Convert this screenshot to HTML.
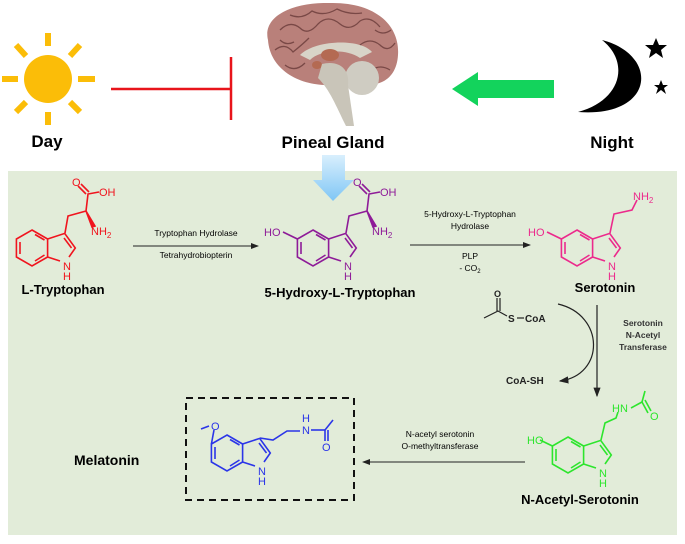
<!DOCTYPE html>
<html><head><meta charset="utf-8"><style>
html,body{margin:0;padding:0;background:#fff}
svg{display:block;font-family:"Liberation Sans",Arial,sans-serif}
.b{font-weight:bold}
</style></head><body>
<svg width="685" height="544" viewBox="0 0 685 544" xmlns="http://www.w3.org/2000/svg">
<defs>
<g id="indole" fill="none" stroke-width="1.6">
<polygon points="0,-18 15.6,-9 15.6,9 0,18 -15.6,9 -15.6,-9"/>
<line x1="3" y1="-13.5" x2="12.5" y2="-8"/>
<line x1="12.5" y1="7" x2="3" y2="13"/>
<line x1="-12" y1="6" x2="-12" y2="-6"/>
<polyline points="15.6,-9 32.7,-14.6 43.3,0 37,9"/>
<line x1="15.6" y1="9" x2="28" y2="13"/>
<line x1="32" y1="-10" x2="39.5" y2="0"/>
</g>
<linearGradient id="bg" x1="0" y1="0" x2="0" y2="1"><stop offset="0" stop-color="#d9effd"/><stop offset="1" stop-color="#7fc6f5"/></linearGradient>
<marker id="ah" markerWidth="8" markerHeight="6" refX="7" refY="3" orient="auto"><path d="M0,0 L8,3 L0,6z" fill="#222"/></marker>
</defs>

<rect x="8" y="171" width="669" height="364" fill="#e2ecd9"/>

<g fill="#fbbd08" stroke="#fbbd08">
<ellipse cx="48" cy="79" rx="24" ry="24" stroke="none"/>
<g stroke-width="6">
<line x1="48" y1="33" x2="48" y2="46"/><line x1="48" y1="112" x2="48" y2="125"/>
<line x1="2" y1="79" x2="18" y2="79"/><line x1="78" y1="79" x2="95" y2="79"/>
<line x1="16" y1="45" x2="26" y2="56"/><line x1="70" y1="102" x2="80" y2="112"/>
<line x1="80" y1="45" x2="70" y2="56"/><line x1="26" y1="102" x2="16" y2="112"/>
</g></g>
<text x="47" y="147" text-anchor="middle" class="b" font-size="17">Day</text>

<line x1="111" y1="89" x2="231" y2="89" stroke="#e8141b" stroke-width="2.5"/>
<line x1="231" y1="57" x2="231" y2="120" stroke="#e8141b" stroke-width="2.5"/>

<path d="M268,40 C262,15 295,2 330,3 C375,2 400,25 398,55 C397,72 388,82 375,84 L330,85 C300,86 270,70 268,40z" fill="#b9807a"/>
<g stroke="#6e3f3d" stroke-width="1.3" fill="none" opacity="0.85">
<path d="M280,30 q10,-10 20,-2 q8,8 18,-4 q10,-10 22,0 q10,8 20,-3 q10,-6 20,6"/>
<path d="M275,50 q10,-8 18,2 q10,-8 16,-14"/>
<path d="M360,45 q10,-8 20,0 q8,8 15,-2"/>
<path d="M285,65 q10,8 20,-2"/>
<path d="M290,15 q12,5 22,-4 q12,6 25,-2 q12,6 25,4"/>
<path d="M375,30 q8,6 16,0"/>
<path d="M280,40 q6,6 14,2"/>
<path d="M372,70 q8,-6 18,0"/>
</g>
<path d="M300,55 C315,40 360,38 372,52 L360,58 C345,48 320,50 310,60z" fill="#d8d4c8"/>
<ellipse cx="330" cy="55" rx="9" ry="6" fill="#b46a52"/>
<ellipse cx="317" cy="65" rx="5" ry="4" fill="#b46a52"/>
<circle cx="362" cy="78" r="17" fill="#cfccc2"/>
<path d="M322,64 C338,60 350,68 348,85 L354,126 L346,126 C336,106 330,90 318,78z" fill="#c9c5b9"/>

<text x="333" y="148" text-anchor="middle" class="b" font-size="17">Pineal Gland</text>

<path d="M554,80 L478,80 L478,72 L452,89 L478,106 L478,98 L554,98z" fill="#13d35c"/>

<path d="M602,40 C660,55 655,118 578,112 C622,100 630,62 602,40z" fill="#000"/>
<polygon points="656,38 659,45 667,45 661,50 663,58 656,53 649,58 651,50 645,45 653,45" fill="#000"/>
<polygon points="661,80 663,85 668,85 664,88 666,94 661,90 656,94 658,88 654,85 659,85" fill="#000"/>
<text x="612" y="148" text-anchor="middle" class="b" font-size="17">Night</text>

<path d="M322,155 L345,155 L345,180 L354,180 L333,201 L313,180 L322,180z" fill="url(#bg)"/>

<g stroke="#f0141e" fill="none" stroke-width="1.6">
<use href="#indole" transform="translate(32,248)"/>
<polyline points="65,233 68,216 86,211 88,194 99,192"/>
<line x1="86" y1="194" x2="78" y2="186"/><line x1="89" y1="192" x2="81" y2="184"/>
<path d="M86,211 L95,226 L92,227z" fill="#f0141e"/>
</g>
<g fill="#f0141e" font-size="11">
<text x="63" y="270">N</text><text x="63" y="280">H</text>
<text x="72" y="186">O</text><text x="99" y="196">OH</text>
<text x="91" y="235">NH<tspan font-size="8" dy="3">2</tspan></text>
</g>
<text x="63" y="294" text-anchor="middle" class="b" font-size="13">L-Tryptophan</text>

<line x1="133" y1="246" x2="258" y2="246" stroke="#222" stroke-width="1" marker-end="url(#ah)"/>
<text x="196" y="236" text-anchor="middle" font-size="8.5">Tryptophan Hydrolase</text>
<text x="196" y="258" text-anchor="middle" font-size="8.5">Tetrahydrobiopterin</text>

<g stroke="#8e1b98" fill="none" stroke-width="1.6">
<use href="#indole" transform="translate(313,248)"/>
<line x1="297.4" y1="239" x2="283" y2="232"/>
<polyline points="346,233 349,216 367,211 369,194 380,192"/>
<line x1="367" y1="194" x2="359" y2="186"/><line x1="370" y1="192" x2="362" y2="184"/>
<path d="M367,211 L376,226 L373,227z" fill="#8e1b98"/>
</g>
<g fill="#8e1b98" font-size="11">
<text x="264" y="236">HO</text>
<text x="344" y="270">N</text><text x="344" y="280">H</text>
<text x="353" y="186">O</text><text x="380" y="196">OH</text>
<text x="372" y="235">NH<tspan font-size="8" dy="3">2</tspan></text>
</g>
<text x="340" y="297" text-anchor="middle" class="b" font-size="13">5-Hydroxy-L-Tryptophan</text>

<line x1="410" y1="245" x2="530" y2="245" stroke="#222" stroke-width="1" marker-end="url(#ah)"/>
<g font-size="8.5" text-anchor="middle">
<text x="470" y="217">5-Hydroxy-L-Tryptophan</text>
<text x="470" y="229">Hydrolase</text>
<text x="470" y="259">PLP</text>
<text x="470" y="271">- CO<tspan font-size="6" dy="2">2</tspan></text>
</g>

<g stroke="#ec2a8c" fill="none" stroke-width="1.6">
<use href="#indole" transform="translate(577,248)"/>
<line x1="561.4" y1="239" x2="547" y2="232"/>
<polyline points="610,233 614,214 632,210 637,200"/>
</g>
<g fill="#ec2a8c" font-size="11">
<text x="528" y="236">HO</text>
<text x="608" y="270">N</text><text x="608" y="280">H</text>
<text x="633" y="200">NH<tspan font-size="8" dy="3">2</tspan></text>
</g>
<text x="605" y="292" text-anchor="middle" class="b" font-size="13">Serotonin</text>

<g stroke="#222" stroke-width="1.2" fill="none">
<line x1="497" y1="298" x2="497" y2="311"/><line x1="500" y1="298" x2="500" y2="311"/>
<polyline points="484,318 498,311 507,316"/>
<line x1="517" y1="318" x2="524" y2="318"/>
<path d="M558,304 C605,315 605,375 560,381" marker-end="url(#ah)"/>
<line x1="597" y1="305" x2="597" y2="396" marker-end="url(#ah)"/>
</g>
<g font-size="10" class="b" fill="#222">
<text x="494" y="297" font-size="9">O</text>
<text x="508" y="322">S</text><text x="525" y="322">CoA</text>
<text x="506" y="384">CoA-SH</text>
</g>
<g font-size="8.5" text-anchor="middle" class="b" fill="#333">
<text x="643" y="326">Serotonin</text>
<text x="643" y="338">N-Acetyl</text>
<text x="643" y="350">Transferase</text>
</g>

<g stroke="#2de52d" fill="none" stroke-width="1.6">
<use href="#indole" transform="translate(568,455)"/>
<line x1="552.4" y1="446" x2="540" y2="440"/>
<polyline points="601,440 605,423 616,418 618,412"/>
<line x1="631" y1="408" x2="642" y2="402"/>
<polyline points="642,402 645,391"/>
<line x1="642" y1="402" x2="648" y2="413"/><line x1="645" y1="400" x2="651" y2="411"/>
</g>
<g fill="#2de52d" font-size="11">
<text x="527" y="444">HO</text>
<text x="599" y="477">N</text><text x="599" y="487">H</text>
<text x="612" y="412">HN</text>
<text x="650" y="420">O</text>
</g>
<text x="580" y="504" text-anchor="middle" class="b" font-size="13">N-Acetyl-Serotonin</text>

<line x1="525" y1="462" x2="363" y2="462" stroke="#222" stroke-width="1" marker-end="url(#ah)"/>
<g font-size="8.5" text-anchor="middle">
<text x="440" y="437">N-acetyl serotonin</text>
<text x="440" y="449">O-methyltransferase</text>
</g>

<rect x="186" y="398" width="168" height="102" fill="none" stroke="#111" stroke-width="2" stroke-dasharray="7,5"/>
<g stroke="#2b35e8" fill="none" stroke-width="1.6">
<use href="#indole" transform="translate(227,453)"/>
<line x1="211.4" y1="444" x2="214" y2="430"/>
<line x1="209" y1="426" x2="201" y2="429"/>
<polyline points="260,438 273,440 287,431 300,431"/>
<line x1="311" y1="430" x2="325" y2="430"/>
<line x1="325" y1="430" x2="333" y2="420"/>
<line x1="325" y1="430" x2="325" y2="441"/><line x1="328" y1="430" x2="328" y2="441"/>
</g>
<g fill="#2b35e8" font-size="11">
<text x="211" y="430">O</text>
<text x="258" y="475">N</text><text x="258" y="485">H</text>
<text x="302" y="422">H</text><text x="302" y="434">N</text>
<text x="322" y="451">O</text>
</g>
<text x="74" y="465" class="b" font-size="14">Melatonin</text>
</svg>
</body></html>
